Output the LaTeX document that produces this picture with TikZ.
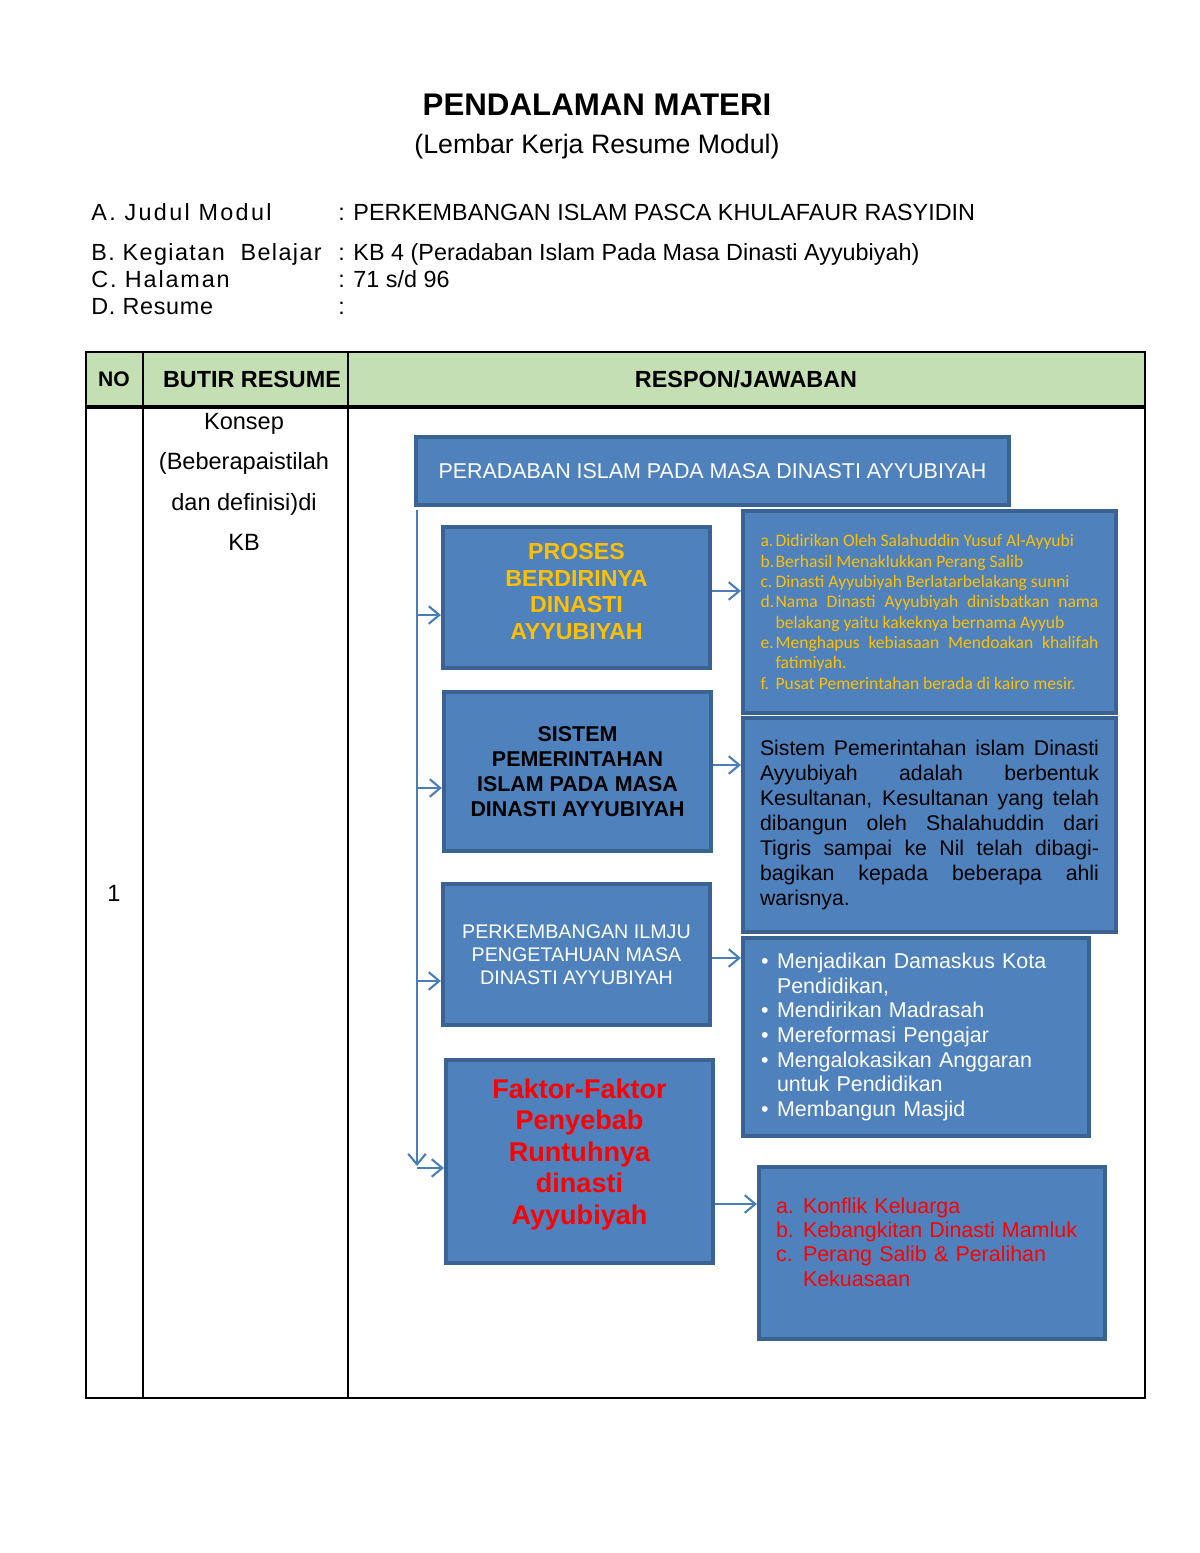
\documentclass[tikz,border=0pt]{standalone}
\usepackage{fontspec}
\setmainfont{Liberation Sans}
\newfontfamily\calibrifont{Carlito}
\usepackage{xcolor}
\usepackage{tikz}
\usetikzlibrary{arrows.meta, positioning, calc}
\definecolor{boxblue}{HTML}{4F81BD}
\definecolor{boxedge}{HTML}{3A6393}
\definecolor{arrowblue}{HTML}{4A7EBB}
\definecolor{gold}{HTML}{FFC000}
\definecolor{headgreen}{HTML}{C4DFB3}
\tikzstyle{topicbox} = [rectangle, draw=boxedge, fill=boxblue, line width=2.4pt, align=center, minimum width=5.34cm]
\tikzstyle{infobox} = [rectangle, draw=boxedge, fill=boxblue, line width=2.4pt]
\tikzstyle{arrow} = [line width=1.2pt, draw=arrowblue, ->, >={Straight Barb[length=6pt,width=10pt]}]
\tikzstyle{headtext} = [font=\bfseries\fontsize{13.3}{16}\selectfont]
\tikzstyle{formtext} = [font=\fontsize{13.3}{16}\selectfont, anchor=base west, inner sep=0pt]

\begin{document}
\begin{tikzpicture}[x=0.02cm, y=-0.02cm]
    \useasboundingbox (0,0) rectangle (1200,1553);

    % heading and form lines
    \node (title) [font=\bfseries\fontsize{17.8}{21}\selectfont] at (597,105) {PENDALAMAN MATERI};
    \node (subtitle) [font=\fontsize{15.2}{18}\selectfont] at (597,147) {(Lembar Kerja Resume Modul)};
    \node (judul) [formtext] at (91,220) {\addfontfeature{LetterSpace=10}A. Judul Modul};
    \node (judulval) [formtext] at (338,220) {: PERKEMBANGAN ISLAM PASCA KHULAFAUR RASYIDIN};
    \node (kegiatan) [formtext] at (91,260) {\addfontfeature{LetterSpace=6}B. Kegiatan\ \ Belajar};
    \node (kegiatanval) [formtext] at (338,260) {: KB 4 (Peradaban Islam Pada Masa Dinasti Ayyubiyah)};
    \node (halaman) [formtext] at (91,287) {\addfontfeature{LetterSpace=8}C. Halaman};
    \node (halamanval) [formtext] at (338,287) {: 71 s/d 96};
    \node (resume) [formtext] at (91,314) {\addfontfeature{LetterSpace=3}D. Resume};
    \node (resumeval) [formtext] at (338,314) {:};

    % table
    \fill[headgreen] (86,352) rectangle (1145,407);
    \draw[line width=1.6pt] (86,352) rectangle (1145,1398);
    \draw[line width=1.8pt] (86,407) -- (1145,407);
    \draw[line width=1.2pt] (143,352) -- (143,1398);
    \draw[line width=1.2pt] (348,352) -- (348,1398);
    \node (no) [headtext, font=\bfseries\fontsize{12}{14}\selectfont] at (114,379) {NO};
    \node (butirhead) [headtext] at (252,379) {BUTIR RESUME};
    \node (responhead) [headtext] at (746,379) {RESPON/JAWABAN};
    \node (nomor) [font=\fontsize{13.4}{16}\selectfont] at (114,893) {1};
    \node (butir) [align=center, font=\fontsize{13.4}{22.9}\selectfont] at (244,482) {Konsep\\(Beberapaistilah\\dan definisi)di\\KB};

    % diagram boxes
    \node (peradaban) [infobox, minimum width=11.86cm, minimum height=1.36cm, text=white, font=\fontsize{12.2}{14}\selectfont] at (712.5,471) {PERADABAN ISLAM PADA MASA DINASTI AYYUBIYAH};
    \node (proses) [topicbox, minimum height=2.82cm, text=gold, font=\bfseries\fontsize{13.2}{15.1}\selectfont] at (576.5,597.5) {PROSES\\BERDIRINYA\\DINASTI\\AYYUBIYAH\rule[-0.24cm]{0pt}{0.24cm}};
    \node (sistem) [topicbox, minimum height=3.18cm, text=black, font=\bfseries\fontsize{12.2}{14.2}\selectfont] at (577.5,771.5) {SISTEM\\PEMERINTAHAN\\ISLAM PADA MASA\\DINASTI AYYUBIYAH};
    \node (ilmu) [topicbox, minimum height=2.82cm, text=white, font=\fontsize{11.2}{13}\selectfont] at (576.5,954.5) {PERKEMBANGAN ILMJU\\PENGETAHUAN MASA\\DINASTI AYYUBIYAH};
    \node (faktor) [topicbox, minimum height=4.06cm, text=red, font=\bfseries\fontsize{15.4}{17.9}\selectfont] at (579.5,1161.5) {Faktor-Faktor\\Penyebab\\Runtuhnya\\dinasti\\Ayyubiyah\rule[-0.4cm]{0pt}{0.4cm}};

    \node (berdiri) [infobox, minimum width=7.46cm, minimum height=4.04cm, text width=6.76cm, align=justify, text=gold, font=\calibrifont\fontsize{10}{11.6}\selectfont] at (929.5,612) {%
        \hangindent=0.3cm \hangafter=1 \noindent\makebox[0.3cm][l]{a.}Didirikan Oleh Salahuddin Yusuf Al-Ayyubi\par
        \hangindent=0.3cm \hangafter=1 \noindent\makebox[0.3cm][l]{b.}Berhasil Menaklukkan Perang Salib\par
        \hangindent=0.3cm \hangafter=1 \noindent\makebox[0.3cm][l]{c.}Dinasti Ayyubiyah Berlatarbelakang sunni\par
        \hangindent=0.3cm \hangafter=1 \noindent\makebox[0.3cm][l]{d.}Nama Dinasti Ayyubiyah dinisbatkan nama\linebreak belakang yaitu kakeknya bernama Ayyub\par
        \hangindent=0.3cm \hangafter=1 \noindent\makebox[0.3cm][l]{e.}Menghapus kebiasaan Mendoakan khalifah\linebreak fatimiyah.\par
        \hangindent=0.3cm \hangafter=1 \noindent\makebox[0.3cm][l]{f.}Pusat Pemerintahan berada di kairo mesir.\par};
    \node (kesultanan) [infobox, minimum width=7.46cm, minimum height=4.28cm, text width=6.78cm, align=justify, text=black, font=\fontsize{12.1}{14.2}\selectfont] at (929.5,825) {%
        \rule{0pt}{0.16cm}Sistem Pemerintahan islam Dinasti\linebreak Ayyubiyah adalah berbentuk\linebreak Kesultanan, Kesultanan yang telah\linebreak dibangun oleh Shalahuddin dari\linebreak Tigris sampai ke Nil telah dibagi-\linebreak bagikan kepada beberapa ahli\linebreak warisnya.};
    \node (pendidikan) [infobox, minimum width=6.92cm, minimum height=3.96cm, text width=6.2cm, align=left, text=white, font=\fontsize{12.2}{14}\selectfont] at (916,1037) {%
        \hangindent=0.32cm \hangafter=1 \noindent\makebox[0.32cm][l]{•}Menjadikan Damaskus Kota\newline Pendidikan,\par
        \hangindent=0.32cm \hangafter=1 \noindent\makebox[0.32cm][l]{•}Mendirikan Madrasah\par
        \hangindent=0.32cm \hangafter=1 \noindent\makebox[0.32cm][l]{•}Mereformasi Pengajar\par
        \hangindent=0.32cm \hangafter=1 \noindent\makebox[0.32cm][l]{•}Mengalokasikan Anggaran\newline untuk Pendidikan\par
        \hangindent=0.32cm \hangafter=1 \noindent\makebox[0.32cm][l]{•}Membangun Masjid\par};
    \node (runtuh) [infobox, minimum width=6.92cm, minimum height=3.44cm, text width=6.24cm, align=left, text=red, font=\fontsize{12.2}{13.9}\selectfont] at (932,1253) {%
        \hangindent=0.54cm \hangafter=1 \noindent\makebox[0.54cm][l]{a.}Konflik Keluarga\par
        \hangindent=0.54cm \hangafter=1 \noindent\makebox[0.54cm][l]{b.}Kebangkitan Dinasti Mamluk\par
        \hangindent=0.54cm \hangafter=1 \noindent\makebox[0.54cm][l]{c.}Perang Salib \& Peralihan\newline Kekuasaan\rule[-0.44cm]{0pt}{0.44cm}\par};

    % connectors
    \coordinate (trunktop) at (417,510);
    \coordinate (trunkend) at (417,1166);
    \draw [arrow] (trunktop) -- (trunkend);
    \draw [arrow] ($(trunktop |- proses.west)+(0,17.5)$) -- ($(proses.west)+(0,17.5)$);
    \draw [arrow] ($(trunktop |- sistem.west)+(0,16.5)$) -- ($(sistem.west)+(0,16.5)$);
    \draw [arrow] ($(trunktop |- ilmu.west)+(0,26.5)$) -- ($(ilmu.west)+(0,26.5)$);
    \draw [arrow] ($(trunktop |- faktor.west)+(0,6.5)$) -- ($(faktor.west)+(0,6.5)$);

    \draw [arrow] ($(proses.east)+(0,-6.5)$) -- ($(berdiri.west |- proses.east)+(0,-6.5)$);
    \draw [arrow] ($(sistem.east)+(0,-6.5)$) -- ($(kesultanan.west |- sistem.east)+(0,-6.5)$);
    \draw [arrow] ($(ilmu.east)+(0,3.5)$) -- ($(pendidikan.west |- ilmu.east)+(0,3.5)$);
    \draw [arrow] ($(faktor.east)+(0,42.5)$) -- ($(runtuh.west |- faktor.east)+(0,42.5)$);
\end{tikzpicture}
\end{document}
